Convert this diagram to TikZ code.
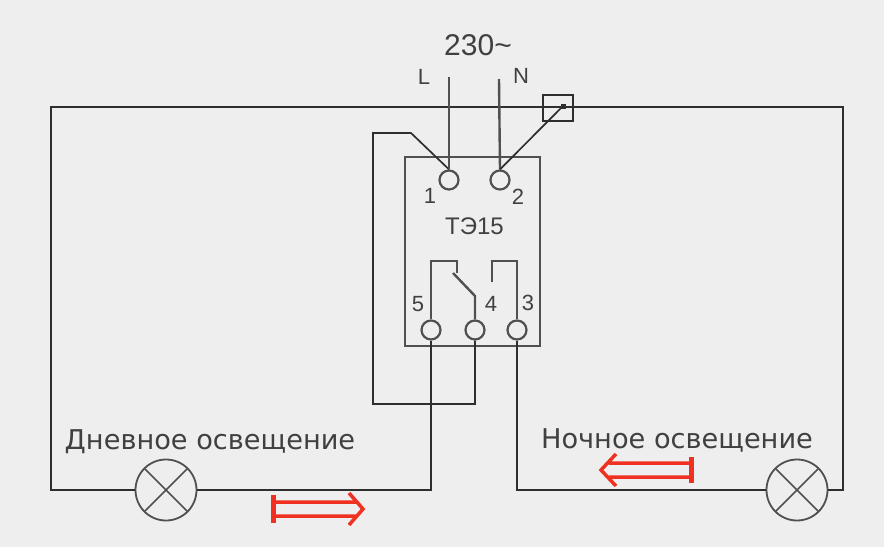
\documentclass[tikz,border=0pt]{standalone}
\usepackage{fontspec}
\setmainfont{Liberation Sans}
\newfontfamily\capfont{DejaVu Sans}
\definecolor{bgc}{HTML}{EEEEEE}
\definecolor{wirec}{HTML}{2E2E2E}
\definecolor{greyc}{HTML}{505050}
\definecolor{txtc}{HTML}{404040}
\definecolor{redc}{HTML}{F03020}
\tikzset{
  wire/.style={draw=wirec,line width=1.7pt,line join=miter},
  innerwire/.style={draw=greyc,line width=2.4pt},
  term/.style={circle,draw=greyc,line width=2.2pt,minimum size=19pt,inner sep=0pt,fill=none},
  lamp/.style={circle,draw=greyc,line width=1.8pt,minimum size=61pt,inner sep=0pt,
    path picture={
      \draw[greyc,line width=1.7pt] (path picture bounding box.center) ++(-21.5pt,-21.5pt) -- ++(43pt,43pt);
      \draw[greyc,line width=1.7pt] (path picture bounding box.center) ++(-21.5pt,21.5pt) -- ++(43pt,-43pt);
    }},
  lbl/.style={text=txtc,inner sep=0pt,font=\fontsize{22}{22}\selectfont},
  captext/.style={text=txtc,inner sep=0pt,font=\capfont\fontsize{27.2}{27.2}\selectfont},
  redarrow/.style={draw=redc,line width=3.5pt,line join=miter},
  redbar/.style={draw=redc,line width=5pt},
}
\begin{document}
\begin{tikzpicture}[x=1pt,y=-1pt]
\useasboundingbox (0,0) rectangle (884,547);
\fill[bgc] (0,0) rectangle (884,547);
% relay case and junction box
\node[draw=greyc,line width=2.4pt,minimum width=135pt,minimum height=189pt,inner sep=0pt] (case) at (472.5,251.5) {};
\node[draw=wirec,line width=1.7pt,minimum width=30pt,minimum height=26pt,inner sep=0pt] (jbox) at (558,108) {};
% terminals
\node[term] (t1) at (449,180) {};
\node[term] (t2) at (500,180) {};
\node[term] (t5) at (431,330) {};
\node[term] (t4) at (475,330) {};
\node[term] (t3) at (517,330) {};
% lamps
\node[lamp] (lampL) at (166,490) {};
\node[lamp] (lampR) at (797,490) {};
% coordinates
\coordinate (Ltop) at (449,77);
\coordinate (Ntop) at (499,79);
\coordinate (dot) at (563,106);
\coordinate (tl) at (51,107);
\coordinate (tr) at (843,107);
\coordinate (bl) at (51,490);
\coordinate (br) at (843,490);
\coordinate (b5) at (431,490);
\coordinate (b3) at (517,490);
\coordinate (c4a) at (475,404);
\coordinate (c4b) at (373,404);
\coordinate (c4c) at (373,133);
\coordinate (c4d) at (411,133);
% outer wires
\draw[wire] (lampL.west) -- (bl) -- (tl) -- (tr) -- (br) -- (lampR.east);
\draw[wire] (lampL.east) -- (b5) -- (t5.south);
\draw[wire] (lampR.west) -- (b3) -- (t3.south);
\draw[wire] (t4.south) -- (c4a) -- (c4b) -- (c4c) -- (c4d) -- (t1.north);
\draw[innerwire] (Ltop) -- (t1.north);
\draw[innerwire] (Ntop) -- (t2.north);
\draw[wire] (t2.north) -- (dot);
\fill[wirec] (dot) ++(-2.5,-2.5) rectangle ++(5,5);
% contacts
\coordinate (k5a) at (431,261);
\coordinate (k5b) at (457,261);
\coordinate (k5c) at (457,273);
\coordinate (k4a) at (475,296);
\coordinate (k4b) at (453,273);
\coordinate (k3a) at (517,261);
\coordinate (k3b) at (492,261);
\coordinate (k3c) at (492,282);
\draw[innerwire] (t5.north) -- (k5a) -- (k5b) -- (k5c);
\draw[innerwire] (t4.north) -- (k4a) -- (k4b);
\draw[innerwire] (t3.north) -- (k3a) -- (k3b) -- (k3c);
% labels
\node[lbl,font=\fontsize{30}{30}\selectfont] (v) at (478,45) {230\char`\~};
\node[lbl] (lL) at (424,77) {L};
\node[lbl] (lN) at (521,76) {N};
\node[lbl] (n1) at (430,196) {1};
\node[lbl] (n2) at (518,197) {2};
\node[lbl,font=\fontsize{24}{24}\selectfont] (te) at (474.5,226) {ТЭ15};
\node[lbl] (n5) at (418,304) {5};
\node[lbl] (n4) at (491,304) {4};
\node[lbl] (n3) at (528,303) {3};
\node[captext] (day) at (210,442) {Дневное освещение};
\node[captext] (night) at (677,440) {Ночное освещение};
% red arrows
\coordinate (a1s) at (273.5,509);
\coordinate (a1t) at (363,509);
\coordinate (a2s) at (691,470);
\coordinate (a2t) at (601,470);
\draw[redbar] (273.5,495) -- (273.5,523);
\draw[redarrow] (a1s) ++(0,-7) -- (356,502) (349,493) -- (a1t) -- (349,525) (356,516) -- (273.5,516);
\draw[redbar] (691,457) -- (691,483);
\draw[redarrow] (a2s) ++(0,-7) -- (609,463) (616,454) -- (a2t) -- (616,486) (609,477) -- (691,477);
\end{tikzpicture}
\end{document}
